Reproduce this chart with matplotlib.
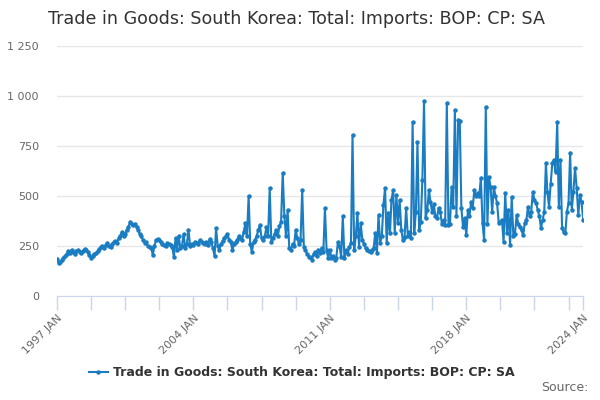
import matplotlib.pyplot as plt
import matplotlib.ticker as mticker
import pandas as pd

title = "Trade in Goods: South Korea: Total: Imports: BOP: CP: SA"
start = "1997-01"

# monthly values, one row per year (1997 ... 2023, then Jan 2024)
imports = [
    185, 165, 170, 180, 190, 200, 210, 225, 215, 230, 220, 210,
    225, 230, 220, 215, 225, 235, 230, 220, 205, 190, 200, 210,
    215, 225, 235, 245, 250, 240, 255, 265, 250, 245, 260, 270,
    275, 265, 290, 300, 320, 300, 310, 330, 345, 370, 360, 355,
    360, 345, 330, 310, 300, 280, 265, 270, 250, 245, 240, 205,
    250, 280, 285, 280, 270, 260, 255, 250, 265, 260, 255, 245,
    195, 290, 230, 300, 240, 250, 310, 240, 260, 330, 250, 260,
    255, 270, 265, 260, 280, 270, 265, 260, 270, 255, 285, 270,
    240, 200, 340, 250, 230, 260, 275, 290, 300, 310, 280, 270,
    230, 260, 270, 280, 300, 290, 280, 320, 365, 300, 500, 260,
    220, 270, 280, 300, 330, 355, 290, 280, 300, 345, 300, 540,
    270, 290, 310, 330, 300, 350, 370, 615, 400, 300, 430, 240,
    230, 260, 250, 330, 290, 260, 280, 530, 245, 230, 210, 195,
    195, 180, 210, 220, 200, 230, 215, 240, 220, 440, 230, 190,
    230, 190, 200, 180, 190, 270, 250, 195, 400, 190, 230, 210,
    245, 265, 805, 230, 300, 415, 245, 365, 280, 260, 240, 230,
    225, 220, 230, 240, 315, 215, 405, 265, 300, 455, 540, 265,
    415, 315, 480, 530, 315, 505, 365, 480, 330, 280, 295, 440,
    300, 320, 290, 870, 315, 420, 770, 330, 370, 580, 975, 390,
    430, 530, 470, 420, 460, 400, 390, 440, 420, 360, 380, 355,
    965, 355, 360, 545, 445, 930, 400, 880, 875, 440, 345, 390,
    305, 430, 400, 470, 440, 530, 500, 515, 500, 590, 365, 280,
    945, 360, 595, 545, 420, 545, 500, 465, 365, 370, 380, 270,
    515, 315, 430, 255, 495, 300, 310, 405, 360, 345, 330, 305,
    365, 380, 445, 400, 420, 520, 480, 465, 430, 400, 340, 380,
    420, 665, 520, 445, 560, 665, 680, 620, 870, 445, 680, 340,
    320, 315, 420, 465, 715, 430, 520, 640, 540, 405, 505, 470,
    380,
]

dates = pd.date_range(start, periods=len(imports), freq="MS")
color = "#1a7cc1"

fig = plt.figure(figsize=(6, 4), dpi=100)
ax = fig.add_axes([0.095, 0.26, 0.877, 0.625])

ax.plot(dates, imports, color=color, lw=1.5, marker="o", ms=2.2,
        label=title)

# y axis
ax.set_ylim(0, 1250)
ax.set_yticks([0, 250, 500, 750, 1000, 1250])
ax.yaxis.set_major_formatter(mticker.FuncFormatter(
    lambda v, p: f"{int(v):,}".replace(",", " ")))
ax.grid(axis="y", color="#e6e6e6", lw=1)
ax.set_axisbelow(True)

# x axis: ticks every 21 months, plus the last one
tick_dates = list(pd.date_range(start, "2023-12", freq="21MS")) + [pd.Timestamp("2024-01")]
ax.set_xlim(pd.Timestamp("1997-01"), pd.Timestamp("2024-01"))
ax.set_xticks(tick_dates)
labels = []
for i, d in enumerate(tick_dates):
    if i % 4 == 0 or i == len(tick_dates) - 1:
        labels.append(d.strftime("%Y JAN"))
    else:
        labels.append("")
ax.set_xticklabels(labels, rotation=45, ha="right", rotation_mode="anchor")

for side in ["left", "right", "top"]:
    ax.spines[side].set_visible(False)
ax.spines["bottom"].set_color("#ccd6eb")
ax.tick_params(axis="x", colors="#ccd6eb", length=10, width=1, labelcolor="#666666",
               labelsize=8, pad=2)
ax.tick_params(axis="y", length=0, labelcolor="#666666", labelsize=8, pad=13)

fig.suptitle(title, x=0.495, y=0.975, fontsize=12.6, color="#333333")

ax.legend(loc="upper center", bbox_to_anchor=(0.465, -0.235), frameon=False,
          prop={"weight": "bold", "size": 9}, labelcolor="#333333",
          handlelength=1.5, handletextpad=0.4)

fig.text(0.98, 0.015, "Source:", ha="right", va="bottom", fontsize=9, color="#666666")

fig.savefig("out.png", dpi=100)
